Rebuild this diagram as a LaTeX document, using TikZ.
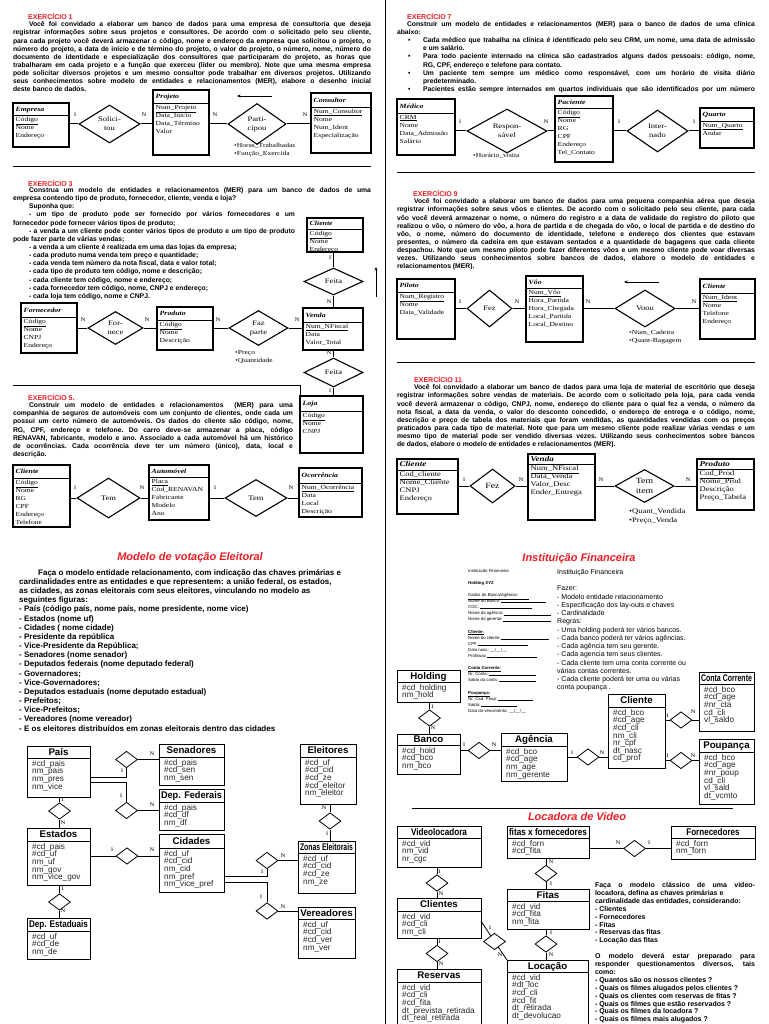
\documentclass[tikz,border=0pt]{standalone}
\usepackage{fontspec}
\usepackage{graphicx}
\setmainfont{Liberation Serif}
\newfontfamily\ar{Liberation Sans}
\newfontfamily\tms[FakeStretch=1.22]{Liberation Serif}
\usetikzlibrary{shapes.geometric,arrows.meta,shadows}
\definecolor{titred}{RGB}{235,28,36}
\newsavebox\fitbox
\newdimen\fitdim
\newcommand\fitx[2]{\sbox\fitbox{#2}\fitdim=\wd\fitbox\relax
  \pgfmathsetmacro\fitw{#1}%
  \ifdim\fitdim>\fitw pt\relax
    \pgfmathsetmacro\fitr{\fitw/\fitdim}\scalebox{\fitr}[1]{\usebox\fitbox}%
  \else\usebox\fitbox\fi}
\newcommand\hx[2]{\scalebox{#1}[1]{#2}}
\newcommand\parfont{\ar\bfseries\fontsize{6.8}{8.15}\selectfont\lineskiplimit=-20pt\spaceskip=0.278em plus 3em minus 0.12em\xspaceskip=\spaceskip\hyphenpenalty=10000\exhyphenpenalty=10000\relax}
\newcommand\locfont{\ar\bfseries\fontsize{7}{7.9}\selectfont\lineskiplimit=-20pt\spaceskip=0.278em plus 3em minus 0.12em\xspaceskip=\spaceskip\hyphenpenalty=10000\exhyphenpenalty=10000\relax}
\newcommand\vfont{\ar\bfseries\fontsize{8}{9.17}\selectfont\lineskiplimit=-20pt\relax}
\newcommand\ifont{\ar\fontsize{7}{8.25}\selectfont\lineskiplimit=-20pt\relax}
\newcommand\formfont{\ar\fontsize{4.3}{6.09}\selectfont\lineskiplimit=-20pt\relax}
\newcommand\titfont{\ar\bfseries\fontsize{7}{8}\selectfont}
\newcommand\btitfont{\ar\bfseries\itshape\fontsize{11}{13}\selectfont}
\newcommand\tattrfont{\tms\fontsize{6.2}{8}\selectfont\lineskiplimit=-20pt\relax}
\newcommand\theadfont{\tms\bfseries\itshape\fontsize{6.4}{8}\selectfont}
\newcommand\tdfont{\tms\fontsize{7}{9}\selectfont\lineskiplimit=-20pt\relax}
\newcommand\cardfont{\tms\fontsize{5.5}{6}\selectfont}
\newcommand\aattrfont{\ar\fontsize{8.2}{7.6}\selectfont\lineskiplimit=-20pt\relax}
\newcommand\aheadfont{\ar\bfseries\fontsize{9.7}{11}\selectfont}
\newcommand\fl[2]{\hbox to #1pt{#2\,\leaders\hrule height 0.35pt\hfill}}

\tikzset{
  para/.style={anchor=north west, inner sep=0pt, outer sep=0pt, align=justify, font=\parfont},
  tit/.style={anchor=west, inner sep=0pt, font=\titfont, text=titred},
  btit/.style={inner sep=0pt, font=\btitfont, text=titred},
  bul/.style={anchor=west, inner sep=0pt, font=\parfont},
  tbox/.style={draw, line width=1.1pt, inner sep=0pt, outer sep=0pt, anchor=north west, fill=white},
  tline/.style={line width=0.9pt},
  thead/.style={inner sep=0pt, font=\theadfont},
  tattr/.style={inner sep=0pt, align=left, font=\tattrfont},
  tnote/.style={anchor=west, inner sep=0pt, font=\tattrfont},
  tdiam/.style={draw, diamond, line width=1.1pt, fill=white, inner sep=0pt},
  tdtxt/.style={inner sep=0pt, align=center, font=\tdfont},
  tconn/.style={line width=1pt},
  card/.style={inner sep=0pt, font=\cardfont},
  sepl/.style={line width=0.9pt},
  arr/.style={line width=0.6pt, -{Stealth[length=3.5pt,width=3pt]}},
  abox/.style={draw, line width=0.9pt, inner sep=0pt, outer sep=0pt, anchor=north west, fill=white,
    drop shadow={shadow xshift=1.3pt, shadow yshift=-1.3pt, fill=black!45, opacity=1}},
  aline/.style={line width=0.8pt},
  ahead/.style={inner sep=0pt, font=\aheadfont},
  aattr/.style={inner sep=0pt, align=left, font=\aattrfont, text=black!85},
  adiam/.style={draw, diamond, line width=0.8pt, fill=white, inner sep=0pt, minimum width=22pt, minimum height=16.5pt},
  aconn/.style={line width=0.8pt},
}

\newcommand\tent[8]{%
  \node[tbox, minimum width={#4-#2}, minimum height={#5-#3}] (#1) at (#2,#3) {};
  \draw[tline] (#1.west |- 0,#6) -- (#1.east |- 0,#6);
  \node[thead, anchor=base west] (#1h) at ({#2+2.5},{(#3+#6)/2+2.2}) {#7};
  \node[tattr, anchor=north west] (#1a) at ({#2+2.5},{#6+1.8}) {#8};
}
\newcommand\aent[8]{%
  \node[abox, minimum width={#4-#2}, minimum height={#5-#3}] (#1) at (#2,#3) {};
  \draw[aline] (#1.west |- 0,#6) -- (#1.east |- 0,#6);
  \node[ahead, anchor=base] (#1h) at ({(#2+#4)/2},{(#3+#6)/2+3.4}) {\fitx{#4-#2-4}{#7}};
  \node[aattr, anchor=north west] (#1a) at ({#2+5},{#6+2.2}) {#8};
}
\newcommand\tdia[6]{%
  \node[tdiam, minimum width=#4, minimum height=#5] (#1) at (#2,#3) {};
  \node[tdtxt] (#1t) at (#2,#3) {#6};
}
\newcommand\adia[3]{\node[adiam] (#1) at (#2,#3) {};}
\newcommand\crd[4]{\node[card] (#1) at (#2,#3) {#4};}

\begin{document}
\begin{tikzpicture}[x=1pt,y=-1pt]
\useasboundingbox (0,0) rectangle (768,1024);
\clip (0,0) rectangle (768,1024);

% column divider
\draw[line width=1pt] (385.5,0) -- (385.5,1024);

% ================= EXERCICIO 1
\node[tit] (t1) at (28,16) {EXERCÍCIO 1};
\node[para, text width=358pt] (p1) at (13,21.7) {\hspace*{16pt}Você foi convidado a elaborar um banco de dados para uma empresa de consultoria que deseja\linebreak registrar informações sobre seus projetos e consultores. De acordo com o solicitado pelo seu cliente,\linebreak para cada projeto você deverá armazenar o código, nome e endereço da empresa que solicitou o projeto, o\linebreak número do projeto, a data de início e de término do projeto, o valor do projeto, o número, nome, número do\linebreak documento de identidade e especialização dos consultores que participaram do projeto, as horas que\linebreak trabalharam em cada projeto e a função que exerceu (líder ou membro). Note que uma mesma empresa\linebreak pode solicitar diversos projetos e um mesmo consultor pode trabalhar em diversos projetos. Utilizando\linebreak seus conhecimentos sobre modelo de entidades e relacionamentos (MER), elabore o desenho inicial\linebreak deste banco de dados.};
\tent{emp}{13}{103}{69}{147}{115}{Empresa}{\underline{Código}\\Nome\\Endereço}
\tent{proj}{153}{90}{209}{155}{103}{Projeto}{\underline{Num\_Projeto}\\Data\_Início\\Data\_Término\\Valor}
\tent{cons}{311}{93}{371}{153}{107}{Consultor}{\underline{Num\_Consultor}\\Nome\\Num\_Ident\\Especialização}
\tdia{sol}{109.5}{124}{61}{38}{Solici-\\tou}
\tdia{par1}{257}{124}{58}{41}{Parti-\\cipou}
\draw[tconn] (emp.east |- sol.west) -- (sol.west);
\draw[tconn] (sol.east) -- (proj.west |- sol.east);
\draw[tconn] (proj.east |- par1.west) -- (par1.west);
\draw[tconn] (par1.east) -- (cons.west |- par1.east);
\crd{k1a}{75}{115}{1}\crd{k1b}{144}{115}{N}\crd{k1c}{215}{115}{N}\crd{k1d}{305}{115}{N}
\node[tnote] (n1a) at (234,146) {•Horas\_Trabalhadas};
\node[tnote] (n1b) at (234,154) {•Função\_Exercida};
\coordinate (a1s) at (272,96); \coordinate (a1e) at (237,96);
\draw[arr] (a1s) -- (a1e);
\draw[sepl] (13,166) -- (371,166);

% ================= EXERCICIO 7
\node[tit] (t7) at (407,16) {EXERCÍCIO 7};
\node[para, text width=358pt] (p7) at (397,21.7) {\hspace*{10pt}Construir um modelo de entidades e relacionamentos (MER) para o banco de dados de uma clínica\linebreak abaixo:};
\node[para, text width=332pt] (p7b) at (423,37.7) {Cada médico que trabalha na clínica é identificado pelo seu CRM, um nome, uma data de admissão\linebreak e um salário.\par Para todo paciente internado na clínica são cadastrados alguns dados pessoais: código, nome,\linebreak RG, CPF, endereço e telefone para contato.\par Um paciente tem sempre um médico como responsável, com um horário de visita diário\linebreak predeterminado.\par {\parfillskip=0pt Pacientes estão sempre internados em quartos individuais que são identificados por um número\par}};
\node[bul] (b7a) at (408,41) {•};
\node[bul] (b7b) at (408,57.3) {•};
\node[bul] (b7c) at (408,73.6) {•};
\node[bul] (b7d) at (408,89.9) {•};
\tent{med}{397}{99}{455}{155}{113}{Médico}{\underline{CRM}\\Nome\\Data\_Admissão\\Salário}
\tent{pac}{555}{96}{613}{162}{108}{Paciente}{\underline{Código}\\Nome\\RG\\CPF\\Endereço\\Tel\_Contato}
\tent{qua}{700}{108}{754}{148}{121}{Quarto}{\underline{Num\_Quarto}\\Andar}
\tdia{resp}{507}{131}{80}{44}{Respon-\\sável}
\tdia{intn}{657.5}{131}{61}{42}{Inter-\\nado}
\draw[tconn] (med.east |- resp.west) -- (resp.west);
\draw[tconn] (resp.east) -- (pac.west |- resp.east);
\draw[tconn] (pac.east |- intn.west) -- (intn.west);
\draw[tconn] (intn.east) -- (qua.west |- intn.east);
\crd{k7a}{460}{122}{1}\crd{k7b}{546}{122}{N}\crd{k7c}{619}{122}{1}\crd{k7d}{694}{122}{1}
\node[tnote] (n7) at (473,156) {•Horário\_visita};
\draw[sepl] (397,172) -- (755,172);

% ================= EXERCICIO 3
\node[tit] (t3) at (28,183) {EXERCÍCIO 3};
\node[para, text width=358pt] (p3) at (13,187.7) {\hspace*{16pt}Construa um modelo de entidades e relacionamentos (MER) para um banco de dados de uma\linebreak empresa contendo tipo de produto, fornecedor, cliente, venda e loja?\par\hspace*{16pt}Suponha que:};
\node[para, text width=282pt] (p3b) at (13,211.9) {\hspace*{16pt}- um tipo de produto pode ser fornecido por vários fornecedores e um\linebreak fornecedor pode fornecer vários tipos de produto;\par
\hspace*{16pt}- a venda a um cliente pode conter vários tipos de produto e um tipo de produto\linebreak pode fazer parte de várias vendas;\par
\hspace*{16pt}- a venda a um cliente é realizada em uma das lojas da empresa;\par
\hspace*{16pt}- cada produto numa venda tem preço e quantidade;\par
\hspace*{16pt}- cada venda tem número da nota fiscal, data e valor total;\par
\hspace*{16pt}- cada tipo de produto tem código, nome e descrição;\par
\hspace*{16pt}- cada cliente tem código, nome e endereço;\par
\hspace*{16pt}- cada fornecedor tem código, nome, CNPJ e endereço;\par
\hspace*{16pt}- cada loja tem código, nome e CNPJ.};
\tent{cli3}{307}{218}{363}{252}{229}{Cliente}{\underline{Código}\\Nome\\Endereço}
\tent{ven3}{303}{308}{363}{350}{322}{Venda}{\underline{Num\_NFiscal}\\Data\\Valor\_Total}
\tent{for3}{21}{303}{77}{353}{317}{Fornecedor}{\underline{Código}\\Nome\\CNPJ\\Endereço}
\tent{pro3}{157}{307}{213}{350}{320}{Produto}{\underline{Código}\\Nome\\Descrição}
\tent{loja}{300}{396}{363}{453}{411}{Loja}{\underline{Código}\\Nome\\CNPJ}
\tdia{feita1}{333.5}{281.5}{59}{27}{Feita}
\tdia{feita2}{333.5}{372.5}{59}{29}{Feita}
\tdia{fnc}{115.5}{328}{55}{33}{For-\\nece}
\tdia{fazp}{258.5}{328}{59}{35}{Faz\\parte}
\draw[tconn] (cli3.south -| feita1.north) -- (feita1.north);
\draw[tconn] (feita1.south) -- (ven3.north -| feita1.south);
\draw[tconn] (ven3.south -| feita2.north) -- (feita2.north);
\draw[tconn] (feita2.south) -- (loja.north -| feita2.south);
\draw[tconn] (for3.east |- fnc.west) -- (fnc.west);
\draw[tconn] (fnc.east) -- (pro3.west |- fnc.east);
\draw[tconn] (pro3.east |- fazp.west) -- (fazp.west);
\draw[tconn] (fazp.east) -- (ven3.west |- fazp.east);
\crd{k3a}{330}{258}{1}\crd{k3b}{329}{302}{N}\crd{k3c}{329}{353}{N}\crd{k3d}{330}{391}{1}
\crd{k3e}{83}{320}{N}\crd{k3f}{147}{320}{N}\crd{k3g}{218}{320}{N}\crd{k3h}{297}{320}{N}
\node[tnote] (n3a) at (235,353) {•Preço};
\node[tnote] (n3b) at (235,360.5) {•Quantidade};
\coordinate (a3s) at (376,297); \coordinate (a3e) at (376,267);
\draw[arr] (a3s) -- (a3e);
\draw[sepl] (13,385) -- (300,385) -- (300,396);

% ================= EXERCICIO 5
\node[tit] (t5) at (28,397) {EXERCÍCIO 5.};
\node[para, text width=280pt] (p5) at (13,402.7) {\hspace*{16pt}Construir um modelo de entidades e relacionamentos \ (MER) para uma\linebreak companhia de seguros de automóveis com um conjunto de clientes, onde cada um\linebreak possui um certo número de automóveis. Os dados do cliente são código, nome,\linebreak RG, CPF, endereço e telefone. Do carro deve-se armazenar a placa, código\linebreak RENAVAN, fabricante, modelo e ano. Associado a cada automóvel há um histórico\linebreak de ocorrências. Cada ocorrência deve ter um número (único), data, local e\linebreak descrição.};
\tent{cli5}{13}{465}{70}{527}{478}{Cliente}{\underline{Código}\\Nome\\RG\\CPF\\Endereço\\Telefone}
\tent{aut}{149}{465}{209}{520}{477}{Automóvel}{\underline{Placa}\\Cód\_RENAVAN\\Fabricante\\Modelo\\Ano}
\tent{oco}{299}{468}{362}{517}{483}{Ocorrência}{\underline{Num\_Ocorrência}\\Data\\Local\\Descrição}
\tdia{tem1}{108.5}{498}{63}{40}{Tem}
\tdia{tem2}{256}{498}{62}{37}{Tem}
\draw[tconn] (cli5.east |- tem1.west) -- (tem1.west);
\draw[tconn] (tem1.east) -- (aut.west |- tem1.east);
\draw[tconn] (aut.east |- tem2.west) -- (tem2.west);
\draw[tconn] (tem2.east) -- (oco.west |- tem2.east);
\crd{k5a}{75}{488}{1}\crd{k5b}{142}{488}{N}\crd{k5c}{215}{488}{1}\crd{k5d}{291}{488}{N}

% ================= EXERCICIO 9
\node[tit] (t9) at (413,193) {EXERCÍCIO 9};
\node[para, text width=358pt] (p9) at (397,198.7) {\hspace*{17pt}Você foi convidado a elaborar um banco de dados para uma pequena companhia aérea que deseja\linebreak registrar informações sobre seus vôos e clientes. De acordo com o solicitado pelo seu cliente, para cada\linebreak vôo você deverá armazenar o nome, o número do registro e a data de validade do registro do piloto que\linebreak realizou o vôo, o número do vôo, a hora de partida e de chegada do vôo, o local de partida e de destino do\linebreak vôo, o nome, número do documento de identidade, telefone e endereço dos clientes que estavam\linebreak presentes, o número da cadeira em que estavam sentados e a quantidade de bagagens que cada cliente\linebreak despachou. Note que um mesmo piloto pode fazer diferentes vôos e um mesmo cliente pode voar diversas\linebreak vezes. Utilizando seus conhecimentos sobre bancos de dados, elabore o modelo de entidades e\linebreak relacionamentos (MER).};
\tent{pil}{397}{279}{455}{339}{292}{Piloto}{\underline{Num\_Registro}\\Nome\\Data\_Validade}
\tent{voo}{526}{276}{583}{342}{288}{Vôo}{\underline{Num\_Vôo}\\Hora\_Partida\\Hora\_Chegada\\Local\_Partida\\Local\_Destino}
\tent{cli9}{700}{279}{755}{339}{293}{Cliente}{\underline{Num\_Ident}\\Nome\\Telefone\\Endereço}
\tdia{fez9}{489.5}{308.5}{45}{37}{Fez}
\tdia{voou}{645}{308.5}{60}{37}{Voou}
\draw[tconn] (pil.east |- fez9.west) -- (fez9.west);
\draw[tconn] (fez9.east) -- (voo.west |- fez9.east);
\draw[tconn] (voo.east |- voou.west) -- (voou.west);
\draw[tconn] (voou.east) -- (cli9.west |- voou.east);
\crd{k9a}{460}{302}{1}\crd{k9b}{517}{302}{N}\crd{k9c}{588}{302}{N}\crd{k9d}{694}{302}{N}
\node[tnote] (n9a) at (629,333) {•Num\_Cadeira};
\node[tnote] (n9b) at (629,341) {•Quant-Bagagem};
\coordinate (a9s) at (659,282); \coordinate (a9e) at (624,282);
\draw[arr] (a9s) -- (a9e);
\draw[sepl] (397,362) -- (755,362);

% ================= EXERCICIO 11
\node[tit] (t11) at (414,379) {EXERCÍCIO 11};
\node[para, text width=358pt] (p11) at (397,384.7) {\hspace*{17pt}Você foi convidado a elaborar um banco de dados para uma loja de material de escritório que deseja\linebreak registrar informações sobre vendas de materiais. De acordo com o solicitado pela loja, para cada venda\linebreak você deverá armazenar o código, CNPJ, nome, endereço do cliente para o qual fez a venda, o número da\linebreak nota fiscal, a data da venda, o valor do desconto concedido, o endereço de entrega e o código, nome,\linebreak descrição e preço de tabela dos materiais que foram vendidas, as quantidades vendidas com os preços\linebreak praticados para cada tipo de material. Note que para um mesmo cliente pode realizar várias vendas e um\linebreak mesmo tipo de material pode ser vendido diversas vezes. Utilizando seus conhecimentos sobre bancos\linebreak de dados, elabore o modelo de entidades e relacionamentos (MER).};
\begin{scope}
\renewcommand\tattrfont{\tms\fontsize{7}{8}\selectfont\lineskiplimit=-20pt\relax}
\renewcommand\theadfont{\tms\bfseries\itshape\fontsize{7.4}{8}\selectfont}
\renewcommand\tdfont{\tms\fontsize{8}{10}\selectfont\lineskiplimit=-20pt\relax}
\tent{cli11}{397}{459}{458}{514}{470}{Cliente}{\underline{Cod\_cliente}\\Nome\_Cliente\\CNPJ\\Endereço}
\tent{ven11}{528}{454}{595}{520}{464}{Venda}{\underline{Num\_NFiscal}\\Data\_Venda\\Valor\_Desc\\Ender\_Entrega}
\tent{pro11}{697}{459}{754}{510}{469}{Produto}{\underline{Cod\_Prod}\\Nome\_Prod\\Descrição\\Preço\_Tabela}
\tdia{fez11}{492.5}{486}{45}{34}{Fez}
\tdia{temi}{644.5}{486}{59}{33}{Tem\\item}
\draw[tconn] (cli11.east |- fez11.west) -- (fez11.west);
\draw[tconn] (fez11.east) -- (ven11.west |- fez11.east);
\draw[tconn] (ven11.east |- temi.west) -- (temi.west);
\draw[tconn] (temi.east) -- (pro11.west |- temi.east);
\crd{kba}{464}{480}{1}\crd{kbb}{521}{480}{N}\crd{kbc}{601}{480}{N}\crd{kbd}{688}{480}{N}
\node[tnote] (nba) at (629,512) {•Quant\_Vendida};
\node[tnote] (nbb) at (629,521) {•Preço\_Venda};
\end{scope}

% ================= VOTACAO
\node[btit] (tvot) at (190,558) {Modelo de votação Eleitoral};
\node[anchor=north west, inner sep=0pt, align=left, font=\vfont] (vp) at (19,569.2) {\hspace*{19pt}Faça o modelo entidade relacionamento, com indicação das chaves primárias e\\
cardinalidades entre as entidades e que representem: a união federal, os estados,\\
as cidades, as zonas eleitorais com seus eleitores, vinculando no modelo as\\
seguintes figuras:\\
- País (código país, nome país, nome presidente, nome vice)\\
- Estados (nome uf)\\
- Cidades ( nome cidade)\\
- Presidente da república\\
- Vice-Presidente da República;\\
- Senadores (nome senador)\\
- Deputados federais (nome deputado federal)\\
- Governadores;\\
- Vice-Governadores;\\
- Deputados estaduais (nome deputado estadual)\\
- Prefeitos;\\
- Vice-Prefeitos;\\
- Vereadores (nome vereador)\\
- E os eleitores distribuídos em zonas eleitorais dentro das cidades};
\aent{pais}{27}{746}{90}{797}{758}{País}{\#cd\_pais\\nm\_pais\\nm\_pres\\nm\_vice}
\aent{sen}{159}{744}{224}{785}{757}{Senadores}{\#cd\_pais\\\#cd\_sen\\nm\_sen}
\aent{depf}{159}{789}{224}{830}{802}{Dep. Federais}{\#cd\_pais\\\#cd\_df\\nm\_df}
\aent{est}{27}{828}{90}{885}{841}{Estados}{\#cd\_pais\\\#cd\_uf\\nm\_uf\\nm\_gov\\nm\_vice\_gov}
\aent{cid}{159}{834}{224}{892}{848}{Cidades}{\#cd\_uf\\\#cd\_cid\\nm\_cid\\nm\_pref\\nm\_vice\_pref}
\aent{dest}{27}{918}{90}{959}{931}{Dep. Estaduais}{\#cd\_uf\\\#cd\_de\\nm\_de}
\aent{ele}{300}{744}{356}{804}{757}{Eleitores}{\#cd\_uf\\\#cd\_cid\\\#cd\_ze\\\#cd\_eleitor\\nm\_eleitor}
\aent{zon}{298}{841}{355}{893}{853}{Zonas Eleitorais}{\#cd\_uf\\\#cd\_cid\\\#cd\_ze\\nm\_ze}
\aent{ver}{298}{907}{355}{958}{919}{Vereadores}{\#cd\_uf\\\#cd\_cid\\\#cd\_ver\\nm\_ver}
\adia{dsen}{126.5}{759.5}
\adia{ddf}{126.5}{810.5}
\adia{dpe}{59.5}{811}
\adia{dec}{127}{856}
\adia{dde}{59.5}{902}
\adia{dez}{330}{821}
\adia{dcz}{267}{860.5}
\adia{dcv}{267}{911}
\draw[aconn] (pais.east |- 0,777) -| (dsen.south);
\draw[aconn] (dsen.east) -- (sen.west |- dsen.east);
\draw[aconn] (pais.east |- 0,782) -| (ddf.north);
\draw[aconn] (ddf.east) -- (depf.west |- ddf.east);
\draw[aconn] (pais.south -| dpe.north) -- (dpe.north);
\draw[aconn] (dpe.south) -- (est.north -| dpe.south);
\draw[aconn] (est.east |- dec.west) -- (dec.west);
\draw[aconn] (dec.east) -- (cid.west |- dec.east);
\draw[aconn] (est.south -| dde.north) -- (dde.north);
\draw[aconn] (dde.south) -- (dest.north -| dde.south);
\draw[aconn] (ele.south -| dez.north) -- (dez.north);
\draw[aconn] (dez.south) -- (zon.north -| dez.south);
\draw[aconn] (cid.east |- 0,876) -| (dcz.south);
\draw[aconn] (dcz.east) -- (zon.west |- dcz.east);
\draw[aconn] (cid.east |- 0,882) -| (dcv.north);
\draw[aconn] (dcv.east) -- (ver.west |- dcv.east);
\crd{v1}{152}{754}{N}\crd{v2}{122}{771}{1}\crd{v3}{121}{796}{1}\crd{v4}{152}{805}{N}
\crd{v5}{62.5}{800}{1}\crd{v6}{63}{823}{N}\crd{v7}{112}{850}{1}\crd{v8}{152}{850}{N}
\crd{v9}{62.5}{889}{1}\crd{v10}{63}{911}{N}\crd{v11}{324}{808}{N}\crd{v12}{327}{834}{1}
\crd{v13}{262}{872}{1}\crd{v14}{283}{856}{N}\crd{v15}{261}{897}{1}\crd{v16}{283}{907}{N}

% ================= INSTITUICAO FINANCEIRA
\node[btit] (tif) at (579,559) {Instituição Financeira};
\node[anchor=north west, inner sep=0pt, align=left, font=\formfont] (fif) at (468,568.9) {Instituição Financeira\\[6.09pt]
\textbf{Holding XYZ}\\[6.09pt]
\underline{\makebox[61pt][l]{Dados do Banco/Agência:}}\\
\fl{78}{Nome do Banco:}\\
\fl{64}{CGC:}\\
\fl{83}{Nome da agência:}\\
\fl{83}{Nome do gerente:}\\[6.09pt]
\underline{\textbf{Cliente:}}\\
\fl{81}{Nome do cliente:}\\
\fl{60}{CPF}\\
Data nasc: \_\_/\_\_/\_\_\\
\fl{69}{Profissao}\\[6.09pt]
\underline{\textbf{Conta Corrente:}}\\
\fl{68}{Nr. Conta:}\\
\fl{68}{Saldo da conta:}\\[6.09pt]
\underline{\textbf{Poupança:}}\\
\fl{65}{Nr. Cad. Poup:}\\
\fl{49}{Saldo:}\\
Data do vencimento: \_\_/\_\_/\_\_};
\node[anchor=west, inner sep=0pt, font=\ifont] (if2) at (557,573) {Instituição Financeira};
\node[anchor=north west, inner sep=0pt, align=left, font=\ifont] (ifz) at (557,585.8) {Fazer:\\
- Modelo entidade relacionamento\\
- Especificação dos lay-outs e chaves\\
- Cardinalidade\\
Regras:\\
- Uma holding poderá ter vários bancos.\\
- Cada banco poderá ter vários agências.\\
- Cada agência tem seu gerente.\\
- Cada agencia tem seus clientes.\\
- Cada cliente tem uma conta corrente ou\\
várias contas correntes.\\
- Cada cliente poderá ter uma ou várias\\
conta poupança .};
\aent{hold}{397}{670}{460}{702}{682}{Holding}{\#cd\_holding\\nm\_hold}
\aent{ban}{397}{734}{460}{774}{745}{Banco}{\#cd\_hold\\\#cd\_bco\\nm\_bco}
\aent{age}{501}{733}{567}{781}{746}{Agência}{\#cd\_bco\\\#cd\_age\\nm\_age\\nm\_gerente}
\aent{clif}{608}{694}{665}{768}{707}{Cliente}{\#cd\_bco\\\#cd\_age\\\#cd\_cli\\nm\_cli\\nr\_cpf\\dt\_nasc\\cd\_prof}
\aent{cc}{699}{672}{754}{731}{684}{Conta Corrente}{\#cd\_bco\\\#cd\_age\\\#nr\_cta\\cd\_cli\\vl\_saldo}
\aent{pou}{699}{739}{754}{804}{752}{Poupança}{\#cd\_bco\\\#cd\_age\\\#nr\_poup\\cd\_cli\\vl\_sald\\dt\_vcmto}
\adia{dhb}{429.5}{718}
\adia{dba}{479}{750.5}
\adia{dac}{588}{757}
\adia{dcc}{681}{720}
\adia{dcp}{681}{760.5}
\draw[aconn] (hold.south -| dhb.north) -- (dhb.north);
\draw[aconn] (dhb.south) -- (ban.north -| dhb.south);
\draw[aconn] (ban.east |- dba.west) -- (dba.west);
\draw[aconn] (dba.east) -- (age.west |- dba.east);
\draw[aconn] (age.east |- dac.west) -- (dac.west);
\draw[aconn] (dac.east) -- (clif.west |- dac.east);
\draw[aconn] (clif.east |- dcc.west) -- (dcc.west);
\draw[aconn] (dcc.east) -- (cc.west |- dcc.east);
\draw[aconn] (clif.east |- dcp.west) -- (dcp.west);
\draw[aconn] (dcp.east) -- (pou.west |- dcp.east);
\crd{f1}{432.5}{707}{1}\crd{f2}{433}{728}{N}\crd{f3}{464}{745}{1}\crd{f4}{494}{745}{N}
\crd{f5}{572}{753}{1}\crd{f6}{602}{753}{N}\crd{f7}{667.5}{716}{1}\crd{f8}{693}{712}{N}
\crd{f9}{667.5}{756}{1}\crd{f10}{693}{756}{N}
\draw[sepl] (412,808) -- (733,808);

% ================= LOCADORA
\node[btit] (tloc) at (577,817) {Locadora de Video};
\aent{vid}{397}{826}{481}{867}{838}{\hx{0.84}{Videolocadora}}{\#cd\_vid\\nm\_vid\\nr\_cgc}
\aent{fxf}{507}{826}{589}{858}{838}{fitas x fornecedores}{\#cd\_forn\\\#cd\_fita}
\aent{forn}{671}{826}{755}{859}{838}{\hx{0.83}{Fornecedores}}{\#cd\_forn\\nm\_forn}
\aent{clil}{397}{898}{481}{938}{911}{Clientes}{\#cd\_vid\\\#cd\_cli\\nm\_cli}
\aent{fit}{507}{889}{589}{929}{901}{Fitas}{\#cd\_vid\\\#cd\_fita\\nm\_fita}
\aent{res}{397}{969}{481}{1036}{982}{Reservas}{\#cd\_vid\\\#cd\_cli\\\#cd\_fita\\dt\_prevista\_retirada\\dt\_real\_retirada}
\aent{loc}{507}{960}{588}{1036}{972}{Locação}{\#cd\_vid\\\#dt\_loc\\\#cd\_cli\\\#cd\_fit\\dt\_retirada\\dt\_devolucao}
\adia{dvc}{437}{883}
\adia{dcr}{437}{953.5}
\adia{dcl}{494.5}{941.5}
\adia{dff}{634.5}{848.5}
\adia{dfx}{546}{873.5}
\adia{dfl}{546}{944}
\draw[aconn] (vid.south -| dvc.north) -- (dvc.north);
\draw[aconn] (dvc.south) -- (clil.north -| dvc.south);
\draw[aconn] (clil.south -| dcr.north) -- (dcr.north);
\draw[aconn] (dcr.south) -- (res.north -| dcr.south);
\draw[aconn] (clil.east |- 0,921) -- (dcl);
\draw[aconn] (dcl) -- (loc.north west);
\draw[aconn] (fxf.east |- dff.west) -- (dff.west);
\draw[aconn] (dff.east) -- (forn.west |- dff.east);
\draw[aconn] (fxf.south -| dfx.north) -- (dfx.north);
\draw[aconn] (dfx.south) -- (fit.north -| dfx.south);
\draw[aconn] (fit.south -| dfl.north) -- (dfl.north);
\draw[aconn] (dfl.south) -- (loc.north -| dfl.south);
\crd{l1}{439.5}{872}{1}\crd{l2}{441}{894}{N}\crd{l3}{439.5}{942}{1}\crd{l4}{441}{964}{N}
\crd{l5}{490}{928}{1}\crd{l6}{500}{955}{N}\crd{l7}{618}{843}{N}\crd{l8}{649}{843}{1}
\crd{l9}{551}{862}{N}\crd{l10}{551}{884}{1}\crd{l11}{551}{933}{1}\crd{l12}{551}{955}{N}
\node[anchor=north west, inner sep=0pt, outer sep=0pt, align=justify, font=\locfont, text width=160pt] (lq) at (595,882.4) {Faça o modelo clássico de uma video-\linebreak locadora, defina as chaves primárias e\newline cardinalidade das entidades, considerando:\newline - Clientes\newline - Fornecedores\newline - Fitas\newline - Reservas das fitas\newline - Locação das fitas\par\vspace{7.9pt}O modelo deverá estar preparado para\linebreak responder questionamentos diversos, tais\linebreak como:\newline - Quantos são os nossos clientes ?\newline - Quais os filmes alugados pelos clientes ?\newline - Quais os clientes com reservas de fitas ?\newline - Quais os filmes que estão reservados ?\newline - Quais os filmes da locadora ?\newline - Quais os filmes mais alugados ?};
\end{tikzpicture}
\end{document}
